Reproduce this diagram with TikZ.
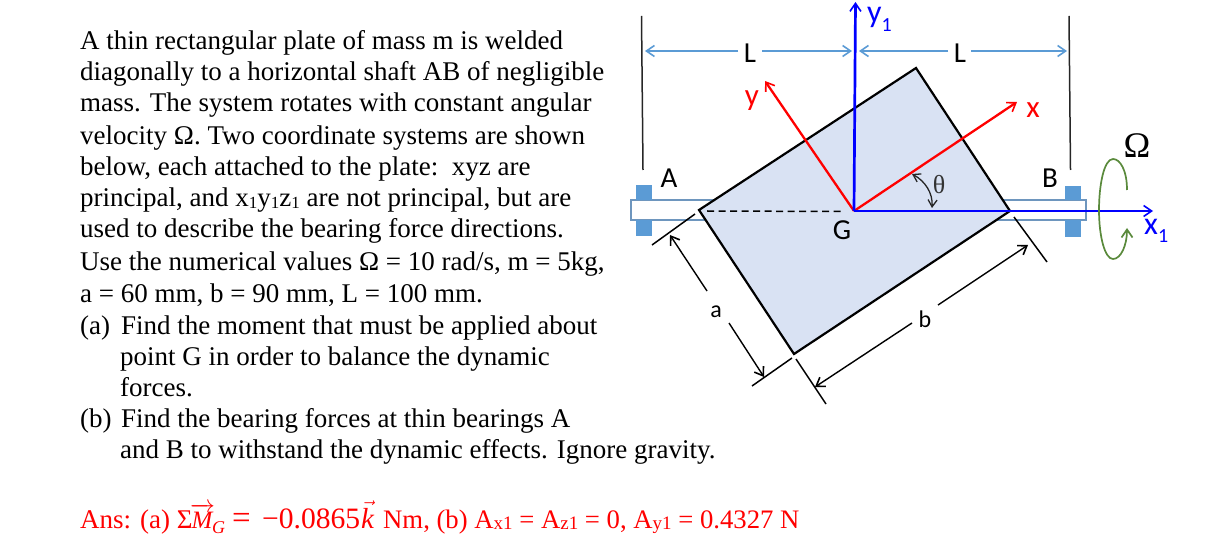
\documentclass[tikz,border=0pt]{standalone}
\usepackage{fontspec}
\setmainfont{Liberation Serif}
\newfontfamily\lblfont{Carlito}
\usetikzlibrary{arrows.meta}
\definecolor{dimblue}{HTML}{5B9BD5}
\definecolor{platefill}{HTML}{D9E2F3}
\definecolor{shaftline}{HTML}{6E96BE}
\definecolor{spin}{HTML}{5A8A3C}
\newcommand{\tinysub}[1]{\raisebox{-1.5pt}{\fontsize{17}{17}\selectfont #1}}
\newcommand{\anssub}[1]{\raisebox{-1.5pt}{\fontsize{19}{19}\selectfont #1}}
\newcommand{\lblsub}[2]{\raisebox{#1}{\fontsize{20}{20}\selectfont #2}}
\tikzset{
 txt/.style={anchor=base west,inner sep=0pt,font=\fontsize{27}{27}\selectfont},
 anstxt/.style={txt,text=red},
 lbl/.style={inner sep=0pt,font=\lblfont\fontsize{29}{29}\selectfont},
 axlbl/.style={anchor=base west,inner sep=0pt,text=blue,font=\lblfont\fontsize{32}{32}\selectfont},
 smalllbl/.style={inner sep=0pt,font=\lblfont\fontsize{24}{24}\selectfont},
 tip/.style={-{Straight Barb[length=8pt,width=11pt,line width=1.6pt]}},
 dimline/.style={draw=black,line width=1.4pt,tip},
 tickline/.style={draw=black,line width=1.5pt},
 ldim/.style={draw=dimblue,line width=1.5pt,tip},
 axisblue/.style={draw=blue,line width=2.7pt,tip},
 axisred/.style={draw=red,line width=2.3pt,tip},
}
\begin{document}
\begin{tikzpicture}[x=1pt,y=-1pt]
\useasboundingbox (0,0) rectangle (1228,553);
% problem text
\node[txt] (t1) at (80,50) {A thin rectangular plate of mass m is welded};
\node[txt] (t2) at (80,81) {diagonally to a horizontal shaft AB of negligible};
\node[txt] (t3) at (80,112) {mass. The system rotates with constant angular};
\node[txt] (t4) at (80,145) {velocity Ω. Two coordinate systems are shown};
\node[txt] (t5) at (80,176) {below, each attached to the plate:\ \ xyz are};
\node[txt] (t6) at (80,207) {principal, and x\tinysub{1}y\tinysub{1}z\tinysub{1} are not principal, but are};
\node[txt] (t7) at (80,238) {used to describe the bearing force directions.};
\node[txt] (t8) at (80,271) {Use the numerical values Ω = 10 rad/s, m = 5kg,};
\node[txt] (t9) at (80,302) {a = 60 mm, b = 90 mm, L = 100 mm.};
\node[txt] (t10) at (80,334) {\makebox[41pt][l]{(a)}Find the moment that must be applied about};
\node[txt] (t11) at (120,365) {point G in order to balance the dynamic};
\node[txt] (t12) at (120,396) {forces.};
\node[txt] (t13) at (80,427) {\makebox[41pt][l]{(b)}Find the bearing forces at thin bearings A};
\node[txt] (t14) at (120,458) {and B to withstand the dynamic effects. Ignore gravity.};
% answer
\node[anstxt] (ans1) at (80,528) {Ans: (a) Σ};
\node[anstxt,font=\fontsize{25}{25}\selectfont] (ansM) at (190,528) {$\overrightarrow{\mbox{\textit{M}}}$};
\node[anstxt,font=\itshape\fontsize{18}{18}\selectfont] (ansG) at (212,533) {G};
\node[anstxt,font=\fontsize{33}{33}\selectfont] (anseq) at (232,528) {=};
\node[anstxt,font=\fontsize{29.6}{30}\selectfont] (ansv) at (262,528) {−0.0865};
\node[anstxt,font=\fontsize{29}{29}\selectfont] (ansk) at (361,528) {$\vec{\mbox{\textit{k}}}$};
\node[anstxt,font=\fontsize{26.7}{27}\selectfont] (ans2) at (383,528) {Nm, (b) A\anssub{x1} = A\anssub{z1} = 0, A\anssub{y1} = 0.4327 N};
% coordinates
\coordinate (G) at (854,211);
\coordinate (pT) at (916,68);
\coordinate (pL) at (699,210);
\coordinate (pR) at (1010,211);
\coordinate (pB) at (794,354);
% shaft and bearings
\draw[draw=shaftline,line width=1.4pt,fill=white] (720,200) -- (631,200) -- (631,220) -- (720,220);
\draw[draw=shaftline,line width=1.4pt,fill=white] (990,200) -- (1086,200) -- (1086,220) -- (990,220);
\fill[dimblue] (636,185) rectangle (652,200);
\fill[dimblue] (636,220) rectangle (652,236);
\fill[dimblue] (1065,186) rectangle (1081,200);
\fill[dimblue] (1065,220) rectangle (1081,237);
% plate
\draw[fill=platefill,line width=2.2pt,line join=miter] (pT) -- (pR) -- (pB) -- (pL) -- cycle;
\draw[line width=1.5pt,dash pattern=on 7pt off 4.5pt] (pL) ++(8,1) -- (842,211.5);
% extension lines
\coordinate (eL1) at (641.5,16); \coordinate (eL2) at (643,170);
\coordinate (eR1) at (1069,16); \coordinate (eR2) at (1070.5,170);
\draw[line width=1.5pt,draw=black!85] (eL1) -- (eL2);
\draw[line width=1.5pt,draw=black!85] (eR1) -- (eR2);
% L dimensions
\node[lbl] (L1) at (750,53) {L};
\node[lbl] (L2) at (960,53) {L};
\coordinate (Lw) at (645,51); \coordinate (Lc1) at (852,51); \coordinate (Lc2) at (859,51); \coordinate (Le) at (1067,51);
\draw[ldim] (738,51) -- (Lw);
\draw[ldim] (762,51) -- (Lc1);
\draw[ldim] (948,51) -- (Lc2);
\draw[ldim] (971,51) -- (Le);
% axes
\draw[axisred] (G) -- (765,81);
\draw[axisred] (G) -- (1017,102);
\draw[axisblue] (G) -- (855.5,2);
\draw[axisblue] (G) -- (1153,211);
\node[lbl,text=red,font=\lblfont\fontsize{31}{31}\selectfont] (ylab) at (752,101) {y};
\node[lbl,text=red,font=\lblfont\fontsize{31}{31}\selectfont] (xlab) at (1033,110) {x};
\node[axlbl] (y1lab) at (867,23) {y\lblsub{-9pt}{1}};
\node[axlbl] (x1lab) at (1144,235) {x\lblsub{-8pt}{1}};
\node[lbl] (A) at (669,178) {A};
\node[lbl] (B) at (1050,178) {B};
\node[lbl] (Glab) at (842,230) {G};
% theta
\draw[draw=black!85,line width=1.3pt,{Straight Barb[length=7pt,width=9pt,line width=1.3pt]}-{Straight Barb[length=7pt,width=9pt,line width=1.3pt]}] (912,174) .. controls (925,181) and (933,193) .. (932,208);
\node[inner sep=0pt,font=\fontsize{26}{26}\selectfont,text=black!80] (theta) at (939,185) {θ};
% a dimension
\draw[tickline] (695,214) -- (652,245);
\draw[tickline] (792,358) -- (752,386);
\node[smalllbl] (alab) at (716,312) {a};
\draw[dimline] (707,291) -- (670,235);
\draw[dimline] (729,323) -- (764,377);
% b dimension
\draw[tickline] (1014,217) -- (1047,262);
\draw[tickline] (796,359) -- (826,404);
\node[smalllbl] (blab) at (925,319) {b};
\draw[dimline] (938,305) -- (1028,245);
\draw[dimline] (912,323) -- (815,387);
% spin arrow
\draw[draw=spin,line width=1.7pt,-{Straight Barb[length=8pt,width=11pt,line width=1.7pt]}] (1127,190) .. controls (1127,170) and (1120,159) .. (1113,159) .. controls (1104,159) and (1099,185) .. (1099,210) .. controls (1099,237) and (1105,259) .. (1113,259) .. controls (1121,259) and (1127,245) .. (1127,228);
\node[inner sep=0pt,font=\fontsize{36}{36}\selectfont] (Om) at (1137,146) {Ω};
\end{tikzpicture}
\end{document}
